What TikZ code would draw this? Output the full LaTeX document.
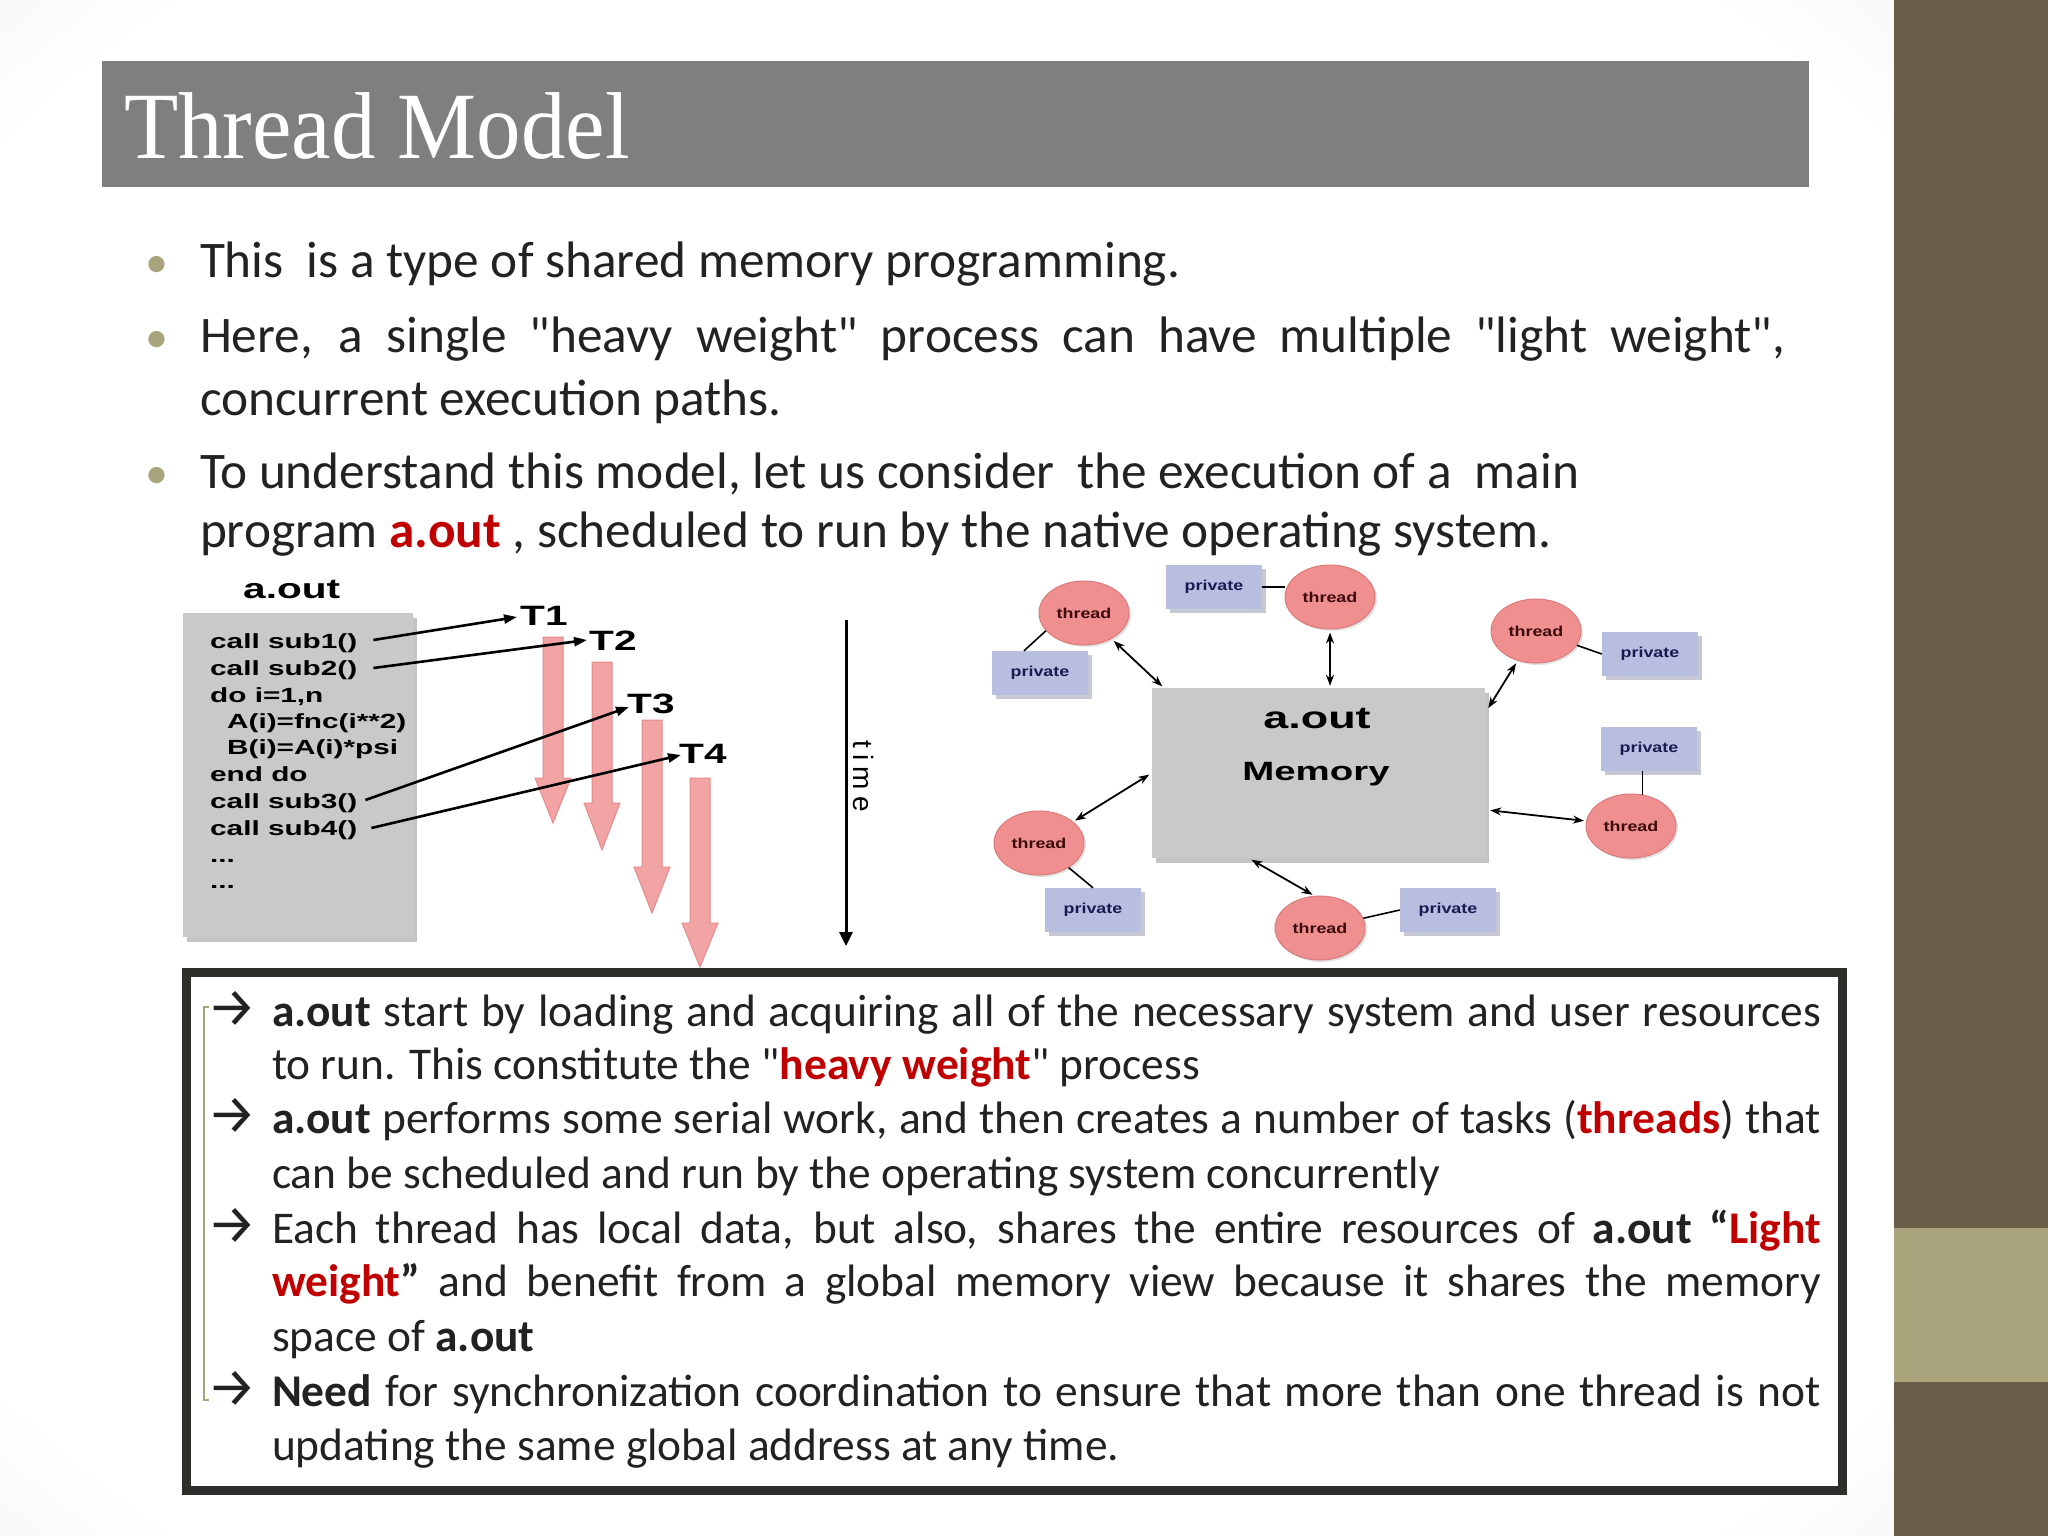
\documentclass[tikz,border=0pt]{standalone}
\usepackage{fontspec}
\setmainfont{Carlito}[Ligatures=TeXOff]
\newfontfamily\titlefont[FakeStretch=0.935]{Liberation Serif}
\newfontfamily\diafont[FakeStretch=1.45]{Liberation Sans}
\newfontfamily\smallfont[FakeStretch=1.25]{Liberation Sans}
\newfontfamily\timefont[LetterSpace=22]{Liberation Sans}
\newfontfamily\arrowfont{Fira Sans}
\usetikzlibrary{shapes.geometric,arrows.meta,calc,shadows}
\definecolor{barc}{HTML}{6B5E48}
\definecolor{bandc}{HTML}{AAA57D}
\definecolor{titlegray}{HTML}{7F7F7F}
\definecolor{redc}{HTML}{C00000}
\definecolor{textc}{HTML}{222222}
\definecolor{bulletc}{HTML}{A8A47E}
\definecolor{boxborder}{HTML}{2E2E2A}
\definecolor{olivec}{HTML}{A8A47E}
\definecolor{codegray}{HTML}{C9C9C9}
\definecolor{codeshadow}{HTML}{8A8A8A}
\definecolor{pinkarrow}{HTML}{F2A3A3}
\definecolor{pinkedge}{HTML}{E58A8A}
\definecolor{thrfill}{HTML}{EF8F8F}
\definecolor{thrrim}{HTML}{DC7A7A}
\definecolor{thrtext}{HTML}{3C0A0A}
\definecolor{prvfill}{HTML}{B7BEE0}
\definecolor{prvshadow}{HTML}{8E93A8}
\definecolor{prvtext}{HTML}{1A1A50}
\pgfdeclareradialshading{slidebg}{\pgfpoint{0bp}{0bp}}{color(0bp)=(white); color(32bp)=(white); color(50bp)=(black!13)}
\begin{document}
\begin{tikzpicture}[x=1pt,y=-1pt,
  txt/.style={anchor=base west,inner sep=0pt,outer sep=0pt,text=textc},
  bigtxt/.style={txt,font=\fontsize{51.3}{62}\selectfont},
  boxtxt/.style={txt,font=\fontsize{45.4}{54}\selectfont},
  bul/.style={anchor=base,inner sep=0pt,text=bulletc,font=\fontsize{46}{46}\selectfont},
  arr/.style={anchor=base west,inner sep=0pt,text=textc,font=\arrowfont\fontsize{55}{55}\selectfont},
  code/.style={anchor=base west,inner sep=0pt,text=black,font=\diafont\bfseries\fontsize{20.5}{20.5}\selectfont},
  tlab/.style={anchor=base west,inner sep=0pt,text=black,font=\diafont\bfseries\fontsize{28}{28}\selectfont},
  codeline/.style={line width=2.6pt,-{Triangle[length=13pt,width=9pt]}},
  thr/.style={ellipse,minimum width=90pt,minimum height=64pt,inner sep=0pt,fill=thrfill,draw=thrrim,line width=1pt,text=thrtext,font=\smallfont\bfseries\fontsize{14.3}{14.3}\selectfont,drop shadow={shadow xshift=2pt,shadow yshift=-2pt,fill=black!22}},
  prv/.style={rectangle,minimum width=96pt,minimum height=44pt,inner sep=0pt,fill=prvfill,text=prvtext,font=\smallfont\bfseries\fontsize{14.3}{14.3}\selectfont,drop shadow={shadow xshift=4pt,shadow yshift=-4pt,fill=prvshadow}},
  graybox/.style={rectangle,inner sep=0pt,fill=codegray,drop shadow={shadow xshift=4pt,shadow yshift=-5pt,fill=codeshadow}},
  link/.style={line width=1.6pt,black},
  dbl/.style={line width=1.8pt,black,{Stealth[length=11pt,width=8pt]}-{Stealth[length=11pt,width=8pt]},shorten <=3pt,shorten >=2pt},
  pinkarr/.style={fill=pinkarrow,draw=pinkedge,line width=1pt}
]
\useasboundingbox (0,0) rectangle (2048,1536);
% background
\shade[shading=slidebg] (0,0) rectangle (1894,1536);
\fill[barc] (1894,0) rectangle (2048,1536);
\fill[bandc] (1894,1228) rectangle (2048,1382);
% title
\fill[titlegray] (102,61) rectangle (1809,187);
\node[anchor=base west,inner sep=0pt,text=white,font=\titlefont\fontsize{95}{95}\selectfont] (title) at (124,159) {Thread Model};
% bullets
\node[bul] (b1) at (157,277) {•};
\node[bul] (b2) at (157,352) {•};
\node[bul] (b3) at (157,488) {•};
\node[bigtxt] (l1) at (200,277) {This\ \ is a type of shared memory programming.};
\node[bigtxt] (l2) at (200,352) {\makebox[1585pt][s]{Here, a single "heavy weight" process can have multiple "light weight",}};
\node[bigtxt] (l3) at (200,415) {concurrent execution paths.};
\node[bigtxt] (l4) at (200,488) {To understand this model, let us consider\ \ the execution of a\ \ main};
\node[bigtxt] (l5) at (200,547) {program \textbf{\color{redc}a.out} , scheduled to run by the native operating system.};
% ---------- left diagram ----------
\node[anchor=base west,inner sep=0pt,font=\diafont\bfseries\fontsize{28}{28}\selectfont] (aoutlab) at (243,598) {a.out};
\node[graybox,minimum width=230pt,minimum height=324pt] (codebox) at (298,775) {};
\node[code] (c1) at (210,648) {call sub1()};
\node[code] (c2) at (210,675) {call sub2()};
\node[code] (c3) at (210,702) {do i=1,n};
\node[code] (c4) at (227,728) {A(i)=fnc(i**2)};
\node[code] (c5) at (227,754) {B(i)=A(i)*psi};
\node[code] (c6) at (210,781) {end do};
\node[code] (c7) at (210,808) {call sub3()};
\node[code] (c8) at (210,835) {call sub4()};
\node[code] (c9) at (210,862) {...};
\node[code] (c10) at (210,888) {...};
% pink thread arrows
\path[pinkarr] (543,637) -- (563,637) -- (563,778) -- (571,778) -- (553,823) -- (535,778) -- (543,778) -- cycle;
\path[pinkarr] (592,662) -- (612,662) -- (612,803) -- (620,803) -- (602,850) -- (584,803) -- (592,803) -- cycle;
\path[pinkarr] (642,720) -- (662,720) -- (662,867) -- (670,867) -- (652,913) -- (634,867) -- (642,867) -- cycle;
\path[pinkarr] (690,778) -- (710,778) -- (710,923) -- (718,923) -- (700,967) -- (682,923) -- (690,923) -- cycle;
\node[tlab] (T1) at (520,625) {T1};
\node[tlab] (T2) at (589,650) {T2};
\node[tlab] (T3) at (627,713) {T3};
\node[tlab] (T4) at (679,763) {T4};
\draw[codeline] ($(c1.base east)+(16,-8)$) -- ($(T1.base west)+(-3,-8)$);
\draw[codeline] ($(c2.base east)+(16,-7)$) -- ($(T2.base west)+(-2,-10)$);
\draw[codeline] ($(c7.base east)+(8,-8)$) -- ($(T3.base west)+(2,-6)$);
\draw[codeline] ($(c8.base east)+(14,-7)$) -- ($(T4.base west)+(2,-8)$);
% time arrow
\coordinate (timetop) at (846,620);
\coordinate (timebot) at (846,946);
\draw[line width=3pt,-{Triangle[length=14pt,width=13pt]}] (timetop) -- (timebot);
\node[rotate=-90,inner sep=0pt,font=\timefont\fontsize{28}{28}\selectfont] (timelab) at (863,776) {time};
% ---------- right diagram ----------
\node[graybox,minimum width=333pt,minimum height=170pt] (mem) at (1318.5,773) {};
\node[anchor=base,inner sep=0pt,font=\diafont\bfseries\fontsize{31}{31}\selectfont] (memA) at (1317,728) {a.out};
\node[anchor=base,inner sep=0pt,font=\diafont\bfseries\fontsize{26.5}{26.5}\selectfont] (memM) at (1316,780) {Memory};
\node[thr] (tTL) at (1084,613) {thread};
\node[thr] (tT) at (1330,597) {thread};
\node[thr] (tTR) at (1536,631) {thread};
\node[thr] (tR) at (1631,826) {thread};
\node[thr] (tB) at (1320,928) {thread};
\node[thr] (tL) at (1039,843) {thread};
\node[prv] (pTL) at (1040,673) {private};
\node[prv] (pT) at (1214,587) {private};
\node[prv] (pTR) at (1650,654) {private};
\node[prv] (pR) at (1649,749) {private};
\node[prv] (pBL) at (1093,910) {private};
\node[prv] (pB) at (1448,910) {private};
\draw[link] (tTL.-155) -- ($(pTL.north)+(-16,0)$);
\draw[link] (pT.east) -- (pT.east -| tT.west);
\draw[link] (tTR) -- (pTR.west);
\draw[link] (pR.south -| tR.70) -- (tR.70);
\draw[link] (tL) -- (pBL.north);
\draw[link] (tB) -- (pB.west);
\draw[dbl] (tTL) -- ($(mem.north west)+(12,0)$);
\draw[dbl] (tT.south) -- (tT.south |- mem.north);
\draw[dbl] (tTR) -- ($(mem.north east)+(2,22)$);
\draw[dbl] ($(mem.east)+(2,37)$) -- (tR);
\draw[dbl] ($(mem.south west)+(97,0)$) -- (tB.100);
\draw[dbl] (mem.west) -- (tL);
% ---------- lower box ----------
\draw[boxborder,line width=9pt,fill=white] (186.5,972.5) rectangle (1842.5,1490);
\coordinate (oltop) at (204,1007);
\coordinate (olbot) at (204,1400);
\draw[olivec,line width=2.2pt] ($(oltop)+(5,0)$) -- (oltop) -- (olbot) -- ($(olbot)+(5,0)$);
\node[arr] (a1) at (207,1026) {→};
\node[arr] (a2) at (207,1133) {→};
\node[arr] (a3) at (207,1243) {→};
\node[arr] (a4) at (207,1406) {→};
\node[boxtxt] (t1) at (272,1026) {\makebox[1549pt][s]{\textbf{a.out} start by loading and acquiring all of the necessary system and user resources}};
\node[boxtxt] (t2) at (272,1079) {to run. This constitute the "\textbf{\color{redc}heavy weight}" process};
\node[boxtxt] (t3) at (272,1133) {\makebox[1549pt][s]{\textbf{a.out} performs some serial work, and then creates a number of tasks (\textbf{\color{redc}threads}) that}};
\node[boxtxt] (t4) at (272,1188) {can be scheduled and run by the operating system concurrently};
\node[boxtxt] (t5) at (272,1243) {\makebox[1549pt][s]{Each thread has local data, but also, shares the entire resources of \textbf{a.out} \textbf{“\color{redc}Light}}};
\node[boxtxt] (t6) at (272,1296) {\makebox[1549pt][s]{\textbf{\color{redc}weight}\textbf{”} and benefit from a global memory view because it shares the memory}};
\node[boxtxt] (t7) at (272,1351) {space of \textbf{a.out}};
\node[boxtxt] (t8) at (272,1406) {\makebox[1549pt][s]{\textbf{Need} for synchronization coordination to ensure that more than one thread is not}};
\node[boxtxt] (t9) at (272,1460) {updating the same global address at any time.};
\end{tikzpicture}
\end{document}
